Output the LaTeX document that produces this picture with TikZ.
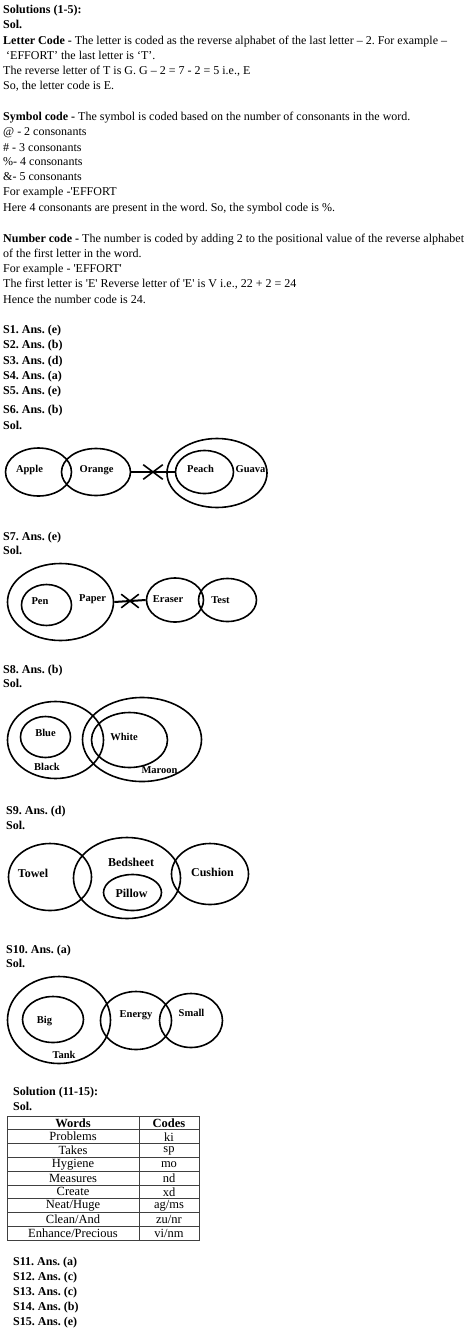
\documentclass[tikz,border=0pt]{standalone}
\usepackage{fontspec}
\setmainfont{Liberation Serif}
\usetikzlibrary{shapes.geometric,shapes.misc}
\frenchspacing
\tikzset{
  txt/.style={anchor=base west, inner sep=0pt, font=\fontsize{12}{14}\selectfont},
  ans/.style={anchor=base west, inner sep=0pt, font=\fontsize{12}{14}\selectfont\bfseries},
  venn/.style={ellipse, draw, line width=1.6pt, inner sep=0pt},
  lbl/.style={inner sep=0pt, font=\fontsize{10.5}{12}\selectfont\bfseries},
  biglbl/.style={inner sep=0pt, font=\fontsize{12}{14}\selectfont\bfseries},
  conn/.style={line width=2pt},
  crossmark/.style={cross out, draw, line width=1.6pt, inner sep=0pt},
  tline/.style={line width=0.8pt, draw=black!75},
  tcell/.style={inner sep=0pt, font=\fontsize{12.5}{14}\selectfont},
  thead/.style={inner sep=0pt, font=\fontsize{12.5}{14}\selectfont\bfseries}
}
\begin{document}
\begin{tikzpicture}[x=1pt,y=-1pt]
\useasboundingbox[fill=white] (0,0) rectangle (474,1333);
% ---------- text part ----------
\node[ans] (h1) at (3,13) {Solutions (1-5):};
\node[ans] (h2) at (3,28) {Sol.};
\node[txt] (l1) at (3,44) {\textbf{Letter Code -} The letter is coded as the reverse alphabet of the last letter – 2. For example –};
\node[txt] (l2) at (6,59) {‘EFFORT’ the last letter is ‘T’.};
\node[txt] (l3) at (3,74) {The reverse letter of T is G. G – 2 = 7 - 2 = 5 i.e., E};
\node[txt] (l4) at (3,89) {So, the letter code is E.};
\node[txt] (s1) at (3,120) {\textbf{Symbol code -} The symbol is coded based on the number of consonants in the word.};
\node[txt] (s2) at (3,135) {@ - 2 consonants};
\node[txt] (s3) at (3,151) {\# - 3 consonants};
\node[txt] (s4) at (3,165) {\%- 4 consonants};
\node[txt] (s5) at (3,180) {\&- 5 consonants};
\node[txt] (s6) at (3,195) {For example -\textquotesingle EFFORT};
\node[txt] (s7) at (3,211) {Here 4 consonants are present in the word. So, the symbol code is \%.};
\node[txt] (n1) at (3,242) {\textbf{Number code -} The number is coded by adding 2 to the positional value of the reverse alphabet};
\node[txt] (n2) at (3,257) {of the first letter in the word.};
\node[txt] (n3) at (3,272) {For example - \textquotesingle EFFORT\textquotesingle};
\node[txt] (n4) at (3,287) {The first letter is \textquotesingle E\textquotesingle{} Reverse letter of \textquotesingle E\textquotesingle{} is V i.e., 22 + 2 = 24};
\node[txt] (n5) at (3,303) {Hence the number code is 24.};
\node[ans] (a1) at (3,333) {S1. Ans. (e)};
\node[ans] (a2) at (3,348) {S2. Ans. (b)};
\node[ans] (a3) at (3,364) {S3. Ans. (d)};
\node[ans] (a4) at (3,379) {S4. Ans. (a)};
\node[ans] (a5) at (3,394) {S5. Ans. (e)};
\node[ans] (a6) at (3,413) {S6. Ans. (b)};
\node[ans] (a6s) at (3,429) {Sol.};
% ---------- S6 ----------
\node[venn, minimum width=66pt, minimum height=48pt] (apple) at (38.5,472) {};
\node[venn, minimum width=69pt, minimum height=47pt] (orange) at (96,472) {};
\node[venn, minimum width=100pt, minimum height=69pt] (guava) at (217,473) {};
\node[venn, minimum width=58pt, minimum height=43pt] (peach) at (204.5,472) {};
\node[lbl] (tapple) at (29.5,470) {Apple};
\node[lbl] (torange) at (96.5,470) {Orange};
\node[lbl] (tpeach) at (200.5,469) {Peach};
\node[lbl] (tguava) at (250.5,469) {Guava};
\draw[conn] (orange.east) -- node[crossmark, minimum width=18pt, minimum height=13pt] (x6) {} (peach.west);
% ---------- S7 ----------
\node[ans] (a7) at (3,540) {S7. Ans. (e)};
\node[ans] (a7s) at (3,554) {Sol.};
\node[venn, minimum width=106pt, minimum height=77pt] (paper) at (60.5,602) {};
\node[venn, minimum width=50pt, minimum height=41pt] (pen) at (46.5,605) {};
\node[venn, minimum width=57pt, minimum height=44pt] (eraser) at (175,600) {};
\node[venn, minimum width=58pt, minimum height=43pt] (test) at (227.5,600) {};
\node[lbl] (tpen) at (40,601) {Pen};
\node[lbl] (tpaper) at (92.5,599) {Paper};
\node[lbl] (teraser) at (168,599) {Eraser};
\node[lbl] (ttest) at (220.5,600) {Test};
\draw[conn] (paper.east) -- node[crossmark, minimum width=16pt, minimum height=12pt] (x7) {} (eraser.west);
% ---------- S8 ----------
\node[ans] (a8) at (3,673) {S8. Ans. (b)};
\node[ans] (a8s) at (3,687) {Sol.};
\node[venn, minimum width=96pt, minimum height=77pt] (black) at (55.5,740) {};
\node[venn, minimum width=50pt, minimum height=41pt] (blue) at (45.5,737) {};
\node[venn, minimum width=119pt, minimum height=84pt] (maroon) at (142,739.5) {};
\node[venn, minimum width=76pt, minimum height=55pt] (white) at (129.5,740) {};
\node[lbl] (tblue) at (45.5,733) {Blue};
\node[lbl] (tblack) at (47,767) {Black};
\node[lbl] (twhite) at (124,737) {White};
\node[lbl] (tmaroon) at (159.5,770) {Maroon};
% ---------- S9 ----------
\node[ans] (a9) at (6,814) {S9. Ans. (d)};
\node[ans] (a9s) at (6,829) {Sol.};
\node[venn, minimum width=83pt, minimum height=67pt] (towel) at (50,877) {};
\node[venn, minimum width=107pt, minimum height=81pt] (bedsheet) at (127,878) {};
\node[venn, minimum width=58pt, minimum height=36pt] (pillow) at (132.5,892.5) {};
\node[venn, minimum width=77pt, minimum height=61pt] (cushion) at (210,874) {};
\node[biglbl] (ttowel) at (33,873) {Towel};
\node[biglbl] (tbedsheet) at (131,862) {Bedsheet};
\node[biglbl] (tpillow) at (131.5,893) {Pillow};
\node[biglbl] (tcushion) at (212.5,872) {Cushion};
% ---------- S10 ----------
\node[ans] (a10) at (6,953) {S10. Ans. (a)};
\node[ans] (a10s) at (6,967) {Sol.};
\node[venn, minimum width=103pt, minimum height=87pt] (tank) at (59,1020) {};
\node[venn, minimum width=61pt, minimum height=46pt] (big) at (53,1019.5) {};
\node[venn, minimum width=71pt, minimum height=58pt] (energy) at (136,1020.5) {};
\node[venn, minimum width=63pt, minimum height=54pt] (small) at (191,1020.5) {};
\node[lbl] (tbig) at (44.5,1021) {Big};
\node[lbl] (ttank) at (64,1055) {Tank};
\node[lbl] (tenergy) at (136,1015) {Energy};
\node[lbl] (tsmall) at (191.5,1013) {Small};
% ---------- Solution 11-15 ----------
\node[ans] (b1) at (13,1095) {Solution (11-15):};
\node[ans] (b2) at (13,1110) {Sol.};
\draw[tline] (7,1116) rectangle (199,1240);
\draw[tline] (139,1116) -- (139,1240);
\foreach \yy in {1129.8,1143.6,1157.3,1171.1,1184.9,1198.7,1212.4,1226.2}
  \draw[tline] (7,\yy) -- (199,\yy);
\node[thead] (w0) at (73,1122.9) {Words};
\node[thead] (c0) at (169,1122.9) {Codes};
\node[tcell] (w1) at (73,1136.7) {Problems};
\node[tcell] (c1) at (169,1136.7) {ki};
\node[tcell] (w2) at (73,1150.5) {Takes};
\node[tcell] (c2) at (169,1150.5) {sp};
\node[tcell] (w3) at (73,1164.2) {Hygiene};
\node[tcell] (c3) at (169,1164.2) {mo};
\node[tcell] (w4) at (73,1178) {Measures};
\node[tcell] (c4) at (169,1178) {nd};
\node[tcell] (w5) at (73,1191.8) {Create};
\node[tcell] (c5) at (169,1191.8) {xd};
\node[tcell] (w6) at (73,1205.6) {Neat/Huge};
\node[tcell] (c6) at (169,1205.6) {ag/ms};
\node[tcell] (w7) at (73,1219.3) {Clean/And};
\node[tcell] (c7) at (169,1219.3) {zu/nr};
\node[tcell] (w8) at (73,1233.1) {Enhance/Precious};
\node[tcell] (c8) at (169,1233.1) {vi/nm};
\node[ans] (e1) at (13,1265) {S11. Ans. (a)};
\node[ans] (e2) at (13,1280) {S12. Ans. (c)};
\node[ans] (e3) at (13,1295) {S13. Ans. (c)};
\node[ans] (e4) at (13,1310) {S14. Ans. (b)};
\node[ans] (e5) at (13,1325) {S15. Ans. (e)};
\end{tikzpicture}
\end{document}
